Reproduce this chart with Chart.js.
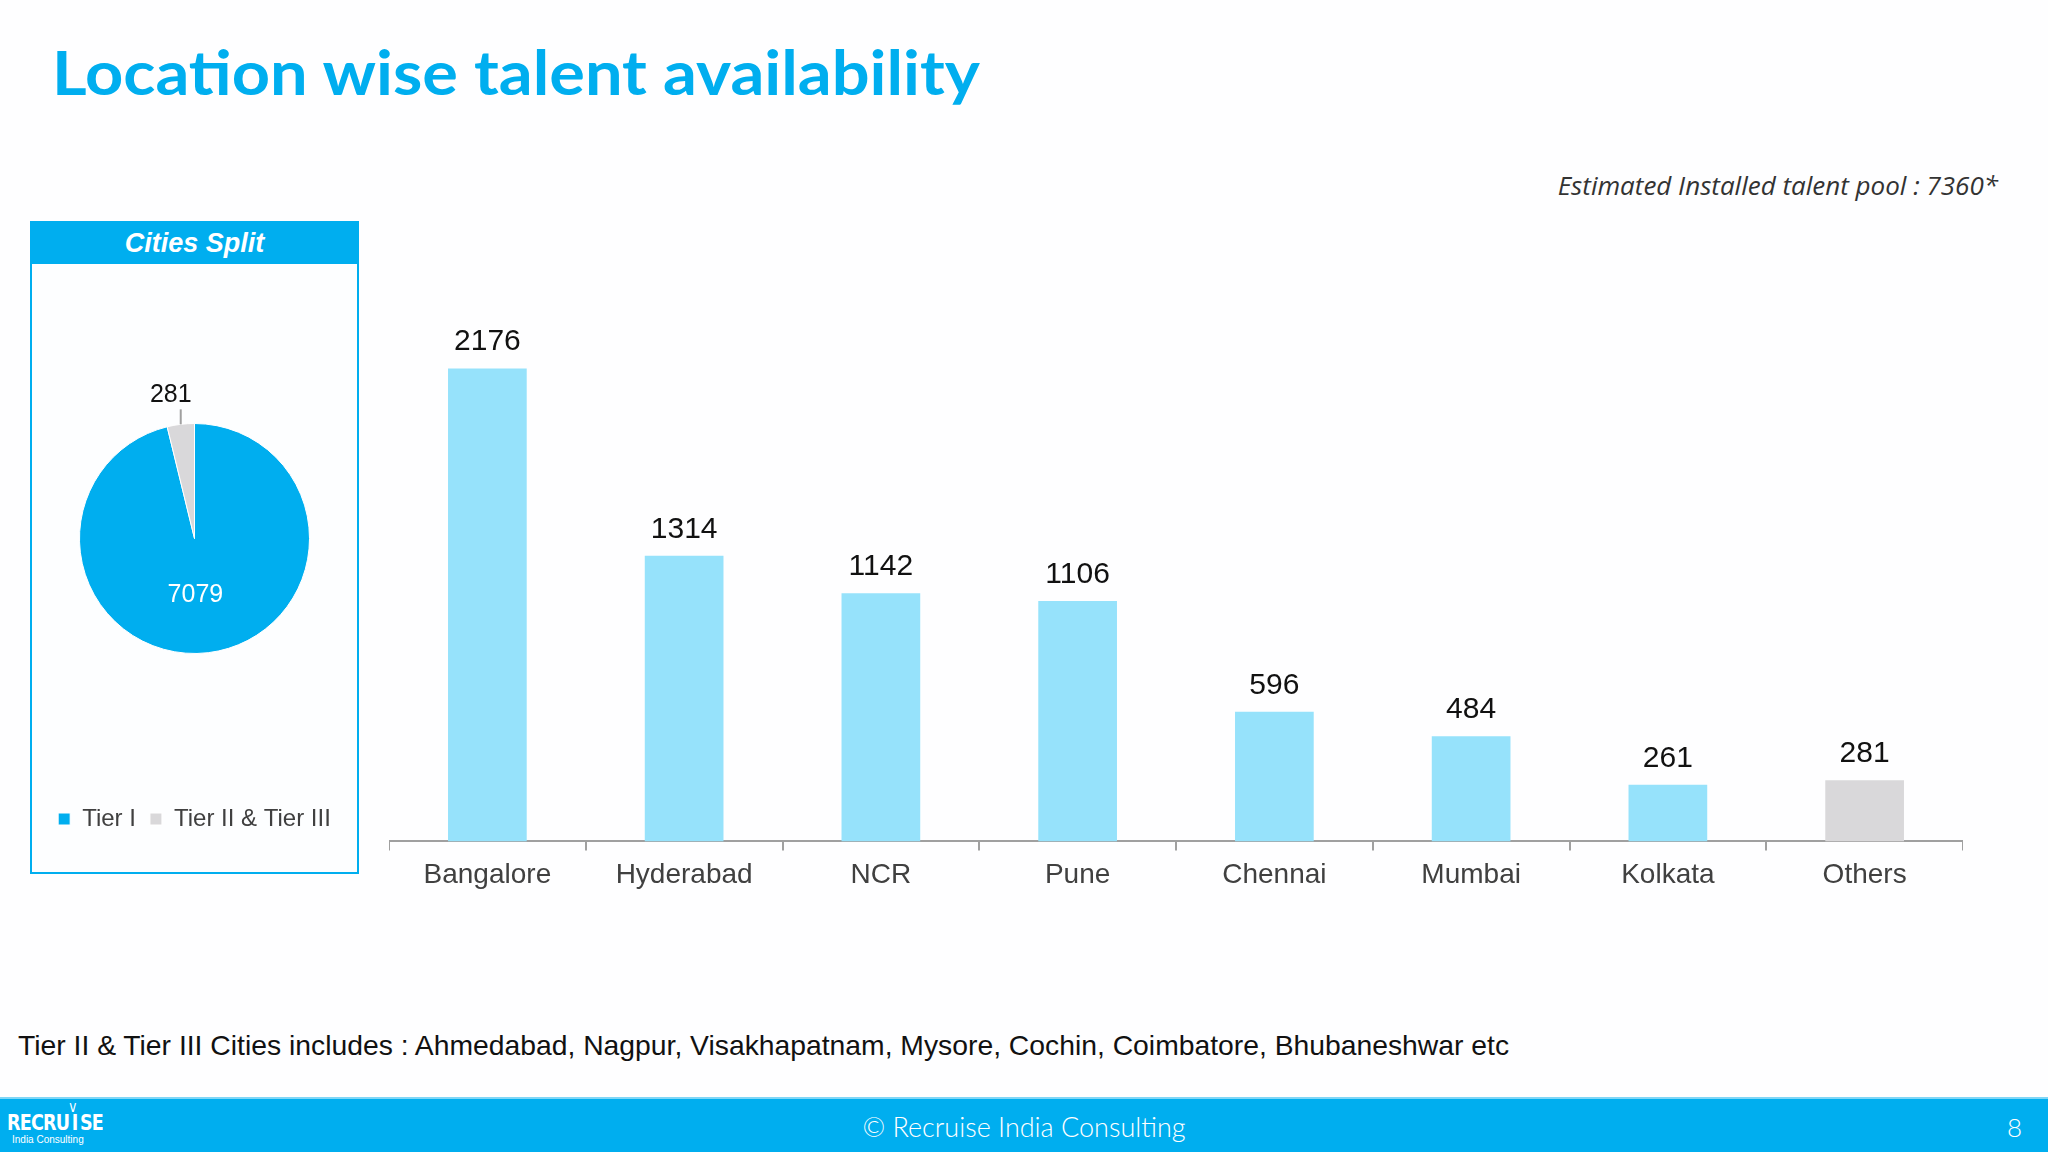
<!DOCTYPE html>
<html>
<head>
<meta charset="utf-8">
<script src="https://cdn.jsdelivr.net/npm/chart.js@4/dist/chart.umd.min.js"></script>
<style>
  html, body { margin: 0; padding: 0; background: #fefeff; }
  body { width: 2048px; height: 1152px; position: relative; overflow: hidden; font-family: "Liberation Sans", Arial, sans-serif; }
  .abs { position: absolute; white-space: nowrap; }
  #title { left: 52px; top: 40px; font-family: Lato, sans-serif; font-weight: 700; font-size: 62px; line-height: 62px; color: #00aeef; transform-origin: left center; }
  #pool { right: 50px; top: 170px; font-family: "Open Sans", sans-serif; font-style: italic; font-size: 26px; line-height: 30px; color: #333; }
  #panel { left: 30px; top: 221px; width: 325px; height: 649px; border: 2px solid #00aeef; background: #fdfeff; }
  #panelHead { position: absolute; left: 0; top: 0; width: 325px; height: 41px; background: #00aeef; color: #fff; font-weight: 700; font-style: italic; font-size: 27px; line-height: 41px; text-align: center; }
  #pieWrap { position: absolute; left: 0; top: 41px; }
  #barWrap { left: 389px; top: 200px; }
  #note { left: 18px; top: 1030px; font-size: 28.3px; line-height: 30px; color: #111; }
  #footer { left: 0; top: 1097px; width: 2048px; height: 55px; background: #00aeef; border-top: 2px solid #7fd6f6; }
  #copy { left: 0; width: 2048px; top: 13px; text-align: center; font-family: Lato, sans-serif; font-weight: 300; font-size: 27px; line-height: 30px; color: #fff; }
  #page { right: 26px; top: 13px; font-family: Lato, sans-serif; font-weight: 300; font-size: 26px; line-height: 30px; color: #fff; }
  #logo { left: 7px; top: 12px; color: #fff; font-family: "DejaVu Sans", sans-serif; font-weight: 700; font-size: 22px; line-height: 24px; letter-spacing: -1px; transform: scaleX(0.8); transform-origin: left; }
  #logo .fig { position: relative; display: inline-block; margin: 0 3px; }
  #logo .fig::before { content: "v"; position: absolute; left: -3px; top: -16px; font-size: 15px; font-weight: 400; }
  #logoSub { left: 12px; top: 35px; color: #fff; font-size: 10px; line-height: 12px; }
</style>
</head>
<body>
<div id="title" class="abs">Location wise talent availability</div>
<div id="pool" class="abs">Estimated Installed talent pool : 7360*</div>

<div id="panel" class="abs">
  <div id="panelHead">Cities Split</div>
  <div id="pieWrap"><canvas id="pieChart" width="325" height="608"></canvas></div>
</div>

<div id="barWrap" class="abs"><canvas id="barChart" width="1574" height="720"></canvas></div>

<div id="note" class="abs">Tier II &amp; Tier III Cities includes : Ahmedabad, Nagpur, Visakhapatnam, Mysore, Cochin, Coimbatore, Bhubaneshwar etc</div>

<div id="footer" class="abs">
  <div id="logo" class="abs">RECRU<span class="fig">I</span>SE</div>
  <div id="logoSub" class="abs">India Consulting</div>
  <div id="copy" class="abs">© Recruise India Consulting</div>
  <div id="page" class="abs">8</div>
</div>

<script>
"use strict";

// ---------------- DATA ----------------
const cities = ["Bangalore", "Hyderabad", "NCR", "Pune", "Chennai", "Mumbai", "Kolkata", "Others"];
const talent = [2176, 1314, 1142, 1106, 596, 484, 261, 281];

const tierLabels = ["Tier I", "Tier II & Tier III"];
const tierValues = [7079, 281];

const BLUE = "#00aeef";
const LIGHT_BLUE = "#96e2fb";
const GREY = "#d9d8da";

// ---------------- TITLE WIDTH (font fallback) ----------------
function fitWidth(id, target) {
  const el = document.getElementById(id);
  const w = el.getBoundingClientRect().width;
  if (w > 0) el.style.transform = "scaleX(" + (target / w) + ")";
}
fitWidth("title", 928);

// ---------------- BAR VALUE LABELS ----------------
const barLabels = {
  id: "barLabels",
  afterDatasetsDraw(chart) {
    const { ctx } = chart;
    const meta = chart.getDatasetMeta(0);
    ctx.save();
    ctx.font = '30px "Liberation Sans", Arial, sans-serif';
    ctx.fillStyle = "#111";
    ctx.textAlign = "center";
    ctx.textBaseline = "alphabetic";
    meta.data.forEach((bar, i) => {
      ctx.fillText(String(talent[i]), bar.x, bar.y - 18);
    });
    ctx.restore();
  },
};

// ---------------- BAR CHART ----------------
new Chart(document.getElementById("barChart").getContext("2d"), {
  type: "bar",
  data: {
    labels: cities,
    datasets: [
      {
        data: talent,
        backgroundColor: cities.map((c) => (c === "Others" ? GREY : LIGHT_BLUE)),
        borderWidth: 0,
        barPercentage: 0.4,
        categoryPercentage: 1,
      },
    ],
  },
  options: {
    responsive: false,
    animation: false,
    layout: { padding: { top: 98, bottom: 20, left: 0, right: 0 } },
    plugins: { legend: { display: false }, tooltip: { enabled: false } },
    scales: {
      y: { display: false, min: 0, max: 2500 },
      x: {
        offset: true,
        border: { display: true, color: "#a0a0a0", width: 2 },
        grid: { display: true, drawOnChartArea: false, drawTicks: true, tickLength: 9, color: "#a0a0a0", lineWidth: 2, offset: true },
        ticks: { color: "#404040", padding: 8, font: { family: '"Liberation Sans", Arial, sans-serif', size: 28 } },
      },
    },
  },
  plugins: [barLabels],
});

// ---------------- PIE LABELS ----------------
const pieLabels = {
  id: "pieLabels",
  afterDatasetsDraw(chart) {
    const { ctx } = chart;
    const meta = chart.getDatasetMeta(0);
    ctx.save();
    ctx.font = '25px "Liberation Sans", Arial, sans-serif';
    ctx.textAlign = "center";

    // big slice: white, inside
    const big = meta.data[0];
    const p = big.tooltipPosition();
    ctx.fillStyle = "#fff";
    ctx.textBaseline = "middle";
    ctx.fillText(String(tierValues[0]), p.x - 6, p.y);

    // small slice: leader line + outside label
    const small = meta.data[1];
    const mid = (small.startAngle + small.endAngle) / 2;
    const ex = small.x + Math.cos(mid) * small.outerRadius;
    const ey = small.y + Math.sin(mid) * small.outerRadius;
    ctx.strokeStyle = "#a0a0a0";
    ctx.lineWidth = 2;
    ctx.beginPath();
    ctx.moveTo(ex, ey);
    ctx.lineTo(ex, ey - 15);
    ctx.stroke();
    ctx.fillStyle = "#111";
    ctx.textBaseline = "alphabetic";
    ctx.fillText(String(tierValues[1]), ex - 10, ey - 22);
    ctx.restore();
  },
};

// ---------------- PIE CHART ----------------
new Chart(document.getElementById("pieChart").getContext("2d"), {
  type: "pie",
  data: {
    labels: tierLabels,
    datasets: [
      {
        data: tierValues,
        backgroundColor: [BLUE, GREY],
        borderColor: "#ffffff",
        borderWidth: 1,
        radius: 115,
      },
    ],
  },
  options: {
    responsive: false,
    animation: false,
    layout: { padding: { top: 20, bottom: 31, left: 0, right: 0 } },
    plugins: {
      tooltip: { enabled: false },
      legend: {
        position: "bottom",
        labels: {
          boxWidth: 12,
          boxHeight: 12,
          padding: 14,
          color: "#404040",
          font: { family: '"Liberation Sans", Arial, sans-serif', size: 24 },
        },
      },
    },
  },
  plugins: [pieLabels],
});
</script>
</body>
</html>
